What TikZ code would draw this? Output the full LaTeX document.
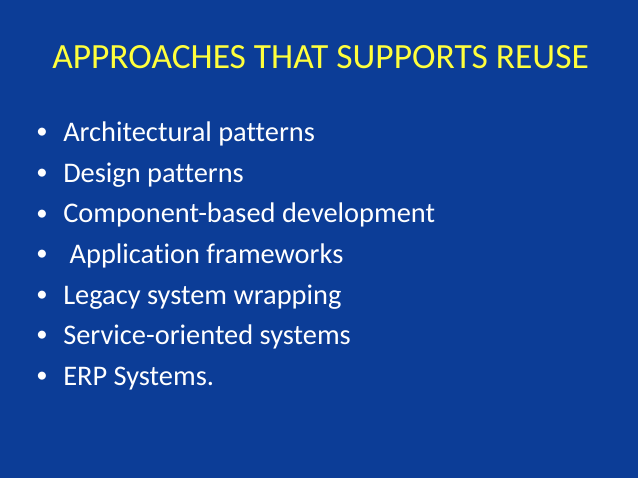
\documentclass[tikz,border=0pt]{standalone}
\usepackage{fontspec}
\setmainfont[Ligatures={NoCommon}]{Carlito}
\definecolor{slideblue}{RGB}{12,61,151}
\definecolor{titleyellow}{RGB}{255,255,60}
\tikzset{
    titletext/.style={anchor=base west, inner sep=0pt, text=titleyellow, font=\fontsize{26.6pt}{30pt}\selectfont},
    itemtext/.style={anchor=base west, inner sep=0pt, text=white, font=\fontsize{21.3pt}{26pt}\selectfont},
    dot/.style={anchor=center, inner sep=0pt, text=white, font=\fontsize{17pt}{20pt}\selectfont}
}
\begin{document}
\begin{tikzpicture}[x=0.75pt, y=-0.75pt]
    % Slide background
    \fill[slideblue] (0,0) rectangle (638,478);
    \useasboundingbox (0,0) rectangle (638,478);
    % Title
    \node[titletext] (title) at (52,68.5) {APPROACHES THAT SUPPORTS REUSE};
    % Bullet list
    \foreach \y/\name/\txt in {141.7/arch/Architectural patterns,
                               182.3/design/Design patterns,
                               222.9/comp/Component-based development,
                               263.5/app/\ Application frameworks,
                               304.1/legacy/Legacy system wrapping,
                               344.7/service/Service-oriented systems,
                               385.3/erp/ERP Systems.} {
        \node[dot] (b-\name) at (42,\y-8) {\textbullet};
        \node[itemtext] (\name) at (63,\y) {\txt};
    }
\end{tikzpicture}
\end{document}
